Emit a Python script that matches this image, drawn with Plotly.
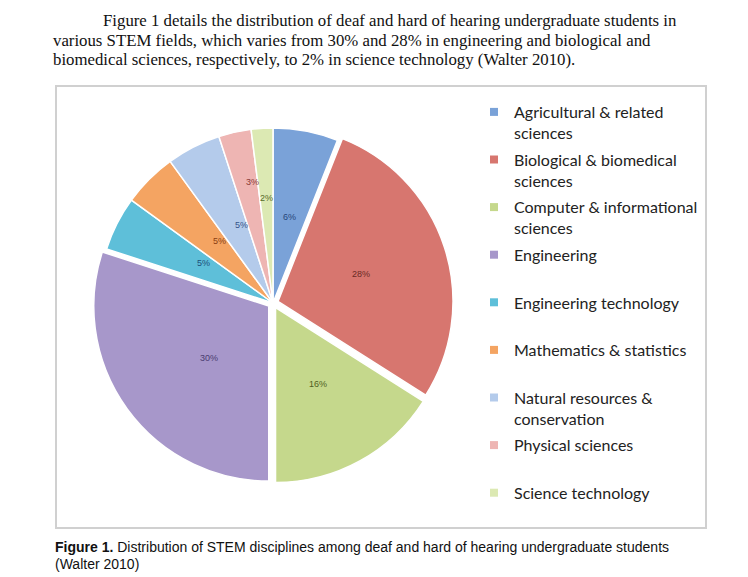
import math
import plotly.graph_objects as go

# The page body has an 8px margin; work in reference-pixel coordinates and shift.
OFF = 8
FW, FH = 740, 569


def px(x):
    return (x - OFF) / FW


def py(y):
    return 1 - (y - OFF) / FH


categories = [
    "Agricultural & related<br>sciences",
    "Biological & biomedical<br>sciences",
    "Computer & informational<br>sciences",
    "Engineering<br> ",
    "Engineering technology<br> ",
    "Mathematics & statistics<br> ",
    "Natural resources &<br>conservation",
    "Physical sciences<br> ",
    "Science technology<br> ",
]
values = [6, 28, 16, 30, 5, 5, 5, 3, 2]
pulls = [0, 0.03, 0.03, 0.03, 0, 0, 0, 0, 0]
colors = ["#7aa2d8", "#d7766f", "#c5d88c", "#a797ca", "#5ebfd9",
          "#f4a462", "#b4cbeb", "#eeb5b3", "#dce9b3"]
label_colors = ["#27477a", "#6a2a26", "#4f5f22", "#4a3d70", "#1d4f7a",
                "#8a3e12", "#34548a", "#8a3a36", "#58692a"]

intro_lines = [
    "Figure 1 details the distribution of deaf and hard of hearing undergraduate students in",
    "various STEM fields, which varies from 30% and 28% in engineering and biological and",
    "biomedical sciences, respectively, to 2% in science technology (Walter 2010).",
]
caption_lines = [
    "<b>Figure 1.</b> Distribution of STEM disciplines among deaf and hard of hearing undergraduate students",
    "(Walter 2010)",
]

# pie geometry (reference pixels)
CX, CY, R = 273, 303, 175
half = R * (1 + max(pulls))

fig = go.Figure()
fig.add_trace(go.Pie(
    labels=categories,
    values=values,
    sort=False,
    direction="clockwise",
    rotation=0,
    pull=pulls,
    marker=dict(colors=colors, line=dict(color="white", width=1.5)),
    textinfo="none",
    hoverinfo="label+percent",
    showlegend=False,
    domain=dict(x=[px(CX - half), px(CX + half)], y=[py(CY + half), py(CY - half)]),
))

# legend entries (one group each so spacing can be controlled)
for cat, col in zip(categories, colors):
    fig.add_trace(go.Scatter(
        x=[None], y=[None], mode="markers", name=cat, legendgroup=cat,
        marker=dict(symbol="square", size=8, color=col),
        hoverinfo="skip",
    ))

# percentage labels, placed from the cumulative values
small_label_frac = {3: 0.75, 2: 0.6}
annotations = []
total = sum(values)
cum = 0
for v, p, lc in zip(values, pulls, label_colors):
    mid = (cum + v / 2) / total * 2 * math.pi
    cum += v
    frac = small_label_frac.get(v, 0.5)
    rr = R * (frac + p)
    annotations.append(dict(
        text=f"{v}%", x=px(CX + rr * math.sin(mid)), y=py(CY - rr * math.cos(mid)),
        xref="paper", yref="paper", showarrow=False,
        font=dict(family="Liberation Sans", size=9, color=lc),
    ))

intro_pos = [(102, 21), (52, 40), (52, 59)]
for t, (x, y) in zip(intro_lines, intro_pos):
    annotations.append(dict(
        text=t, xref="paper", yref="paper", x=px(x), y=py(y),
        xanchor="left", yanchor="middle", showarrow=False, borderpad=0,
        font=dict(family="Liberation Serif", size=16.8, color="#111"),
    ))

cap_pos = [(54, 547), (54, 564)]
for t, (x, y) in zip(caption_lines, cap_pos):
    annotations.append(dict(
        text=t, xref="paper", yref="paper", x=px(x), y=py(y),
        xanchor="left", yanchor="middle", showarrow=False, borderpad=0,
        font=dict(family="Liberation Sans", size=14, color="#111"),
    ))

fig.update_layout(
    width=FW, height=FH,
    margin=dict(l=0, r=0, t=0, b=0),
    paper_bgcolor="white",
    plot_bgcolor="white",
    xaxis=dict(visible=False),
    yaxis=dict(visible=False),
    showlegend=True,
    legend=dict(
        x=px(474), y=py(95), xanchor="left", yanchor="top",
        font=dict(family="Lato", size=16, color="#222"),
        valign="top",
        tracegroupgap=3,
        bgcolor="rgba(0,0,0,0)",
    ),
    shapes=[dict(
        type="rect", xref="paper", yref="paper",
        x0=px(56), x1=px(706), y0=py(528), y1=py(86),
        line=dict(color="#d0d0d0", width=2), fillcolor="rgba(0,0,0,0)",
        layer="below",
    )],
    annotations=annotations,
)

fig.write_html("out.html")
